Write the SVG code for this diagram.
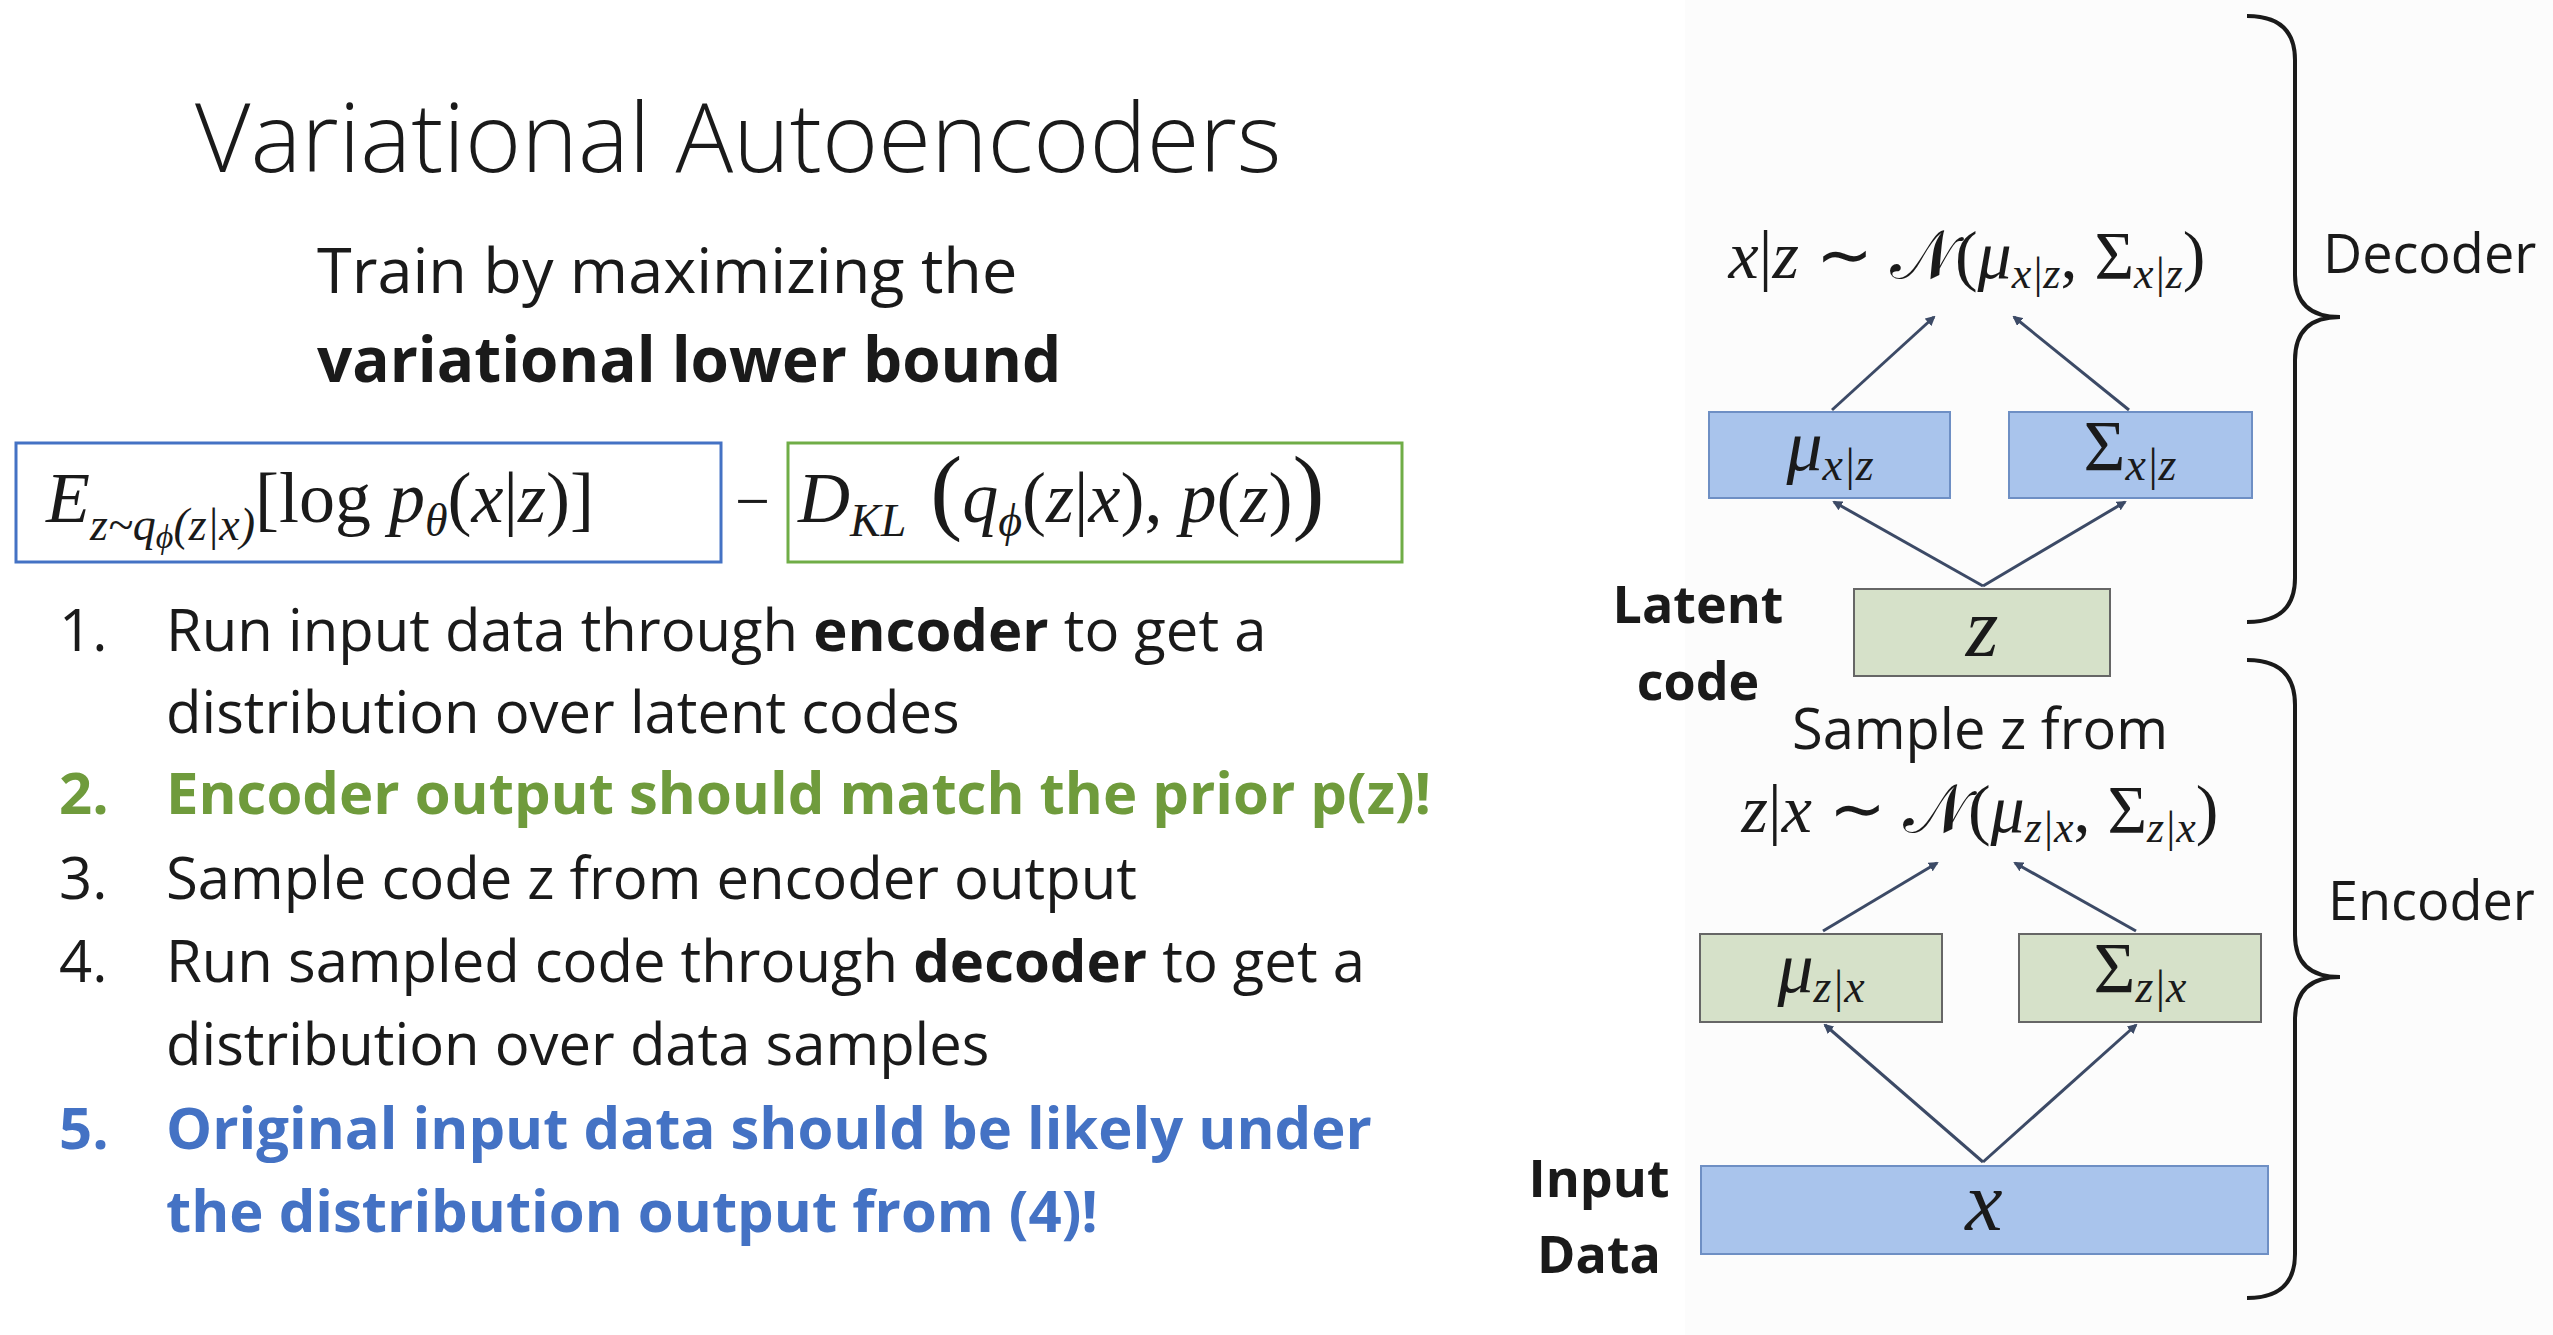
<svg xmlns="http://www.w3.org/2000/svg" width="2553" height="1335" viewBox="0 0 2553 1335">
<style>
.s{font-family:"Open Sans","Liberation Sans",sans-serif;fill:#1a1a1a}
.m{font-family:"Liberation Serif",serif;font-style:italic;fill:#1a1a1a}
.r{font-family:"Liberation Serif",serif;fill:#1a1a1a}
.b{font-weight:bold}
.bl{fill:#a9c4ec;stroke:#6e8fc4;stroke-width:2}
.gr{fill:#d6e1c9;stroke:#666;stroke-width:2}
.a{stroke:#3c4a66;stroke-width:3;fill:none;marker-end:url(#ah)}
.br{stroke:#1a1a1a;stroke-width:4;fill:none}
</style>
<defs><marker id="ah" markerWidth="10" markerHeight="10" refX="8" refY="5" orient="auto" markerUnits="userSpaceOnUse"><path d="M0,0 L10,5 L0,10 z" fill="#3c4a66"/></marker></defs>
<rect width="2553" height="1335" fill="#fcfcfc"/>
<rect width="1685" height="1335" fill="#fff"/>
<text class="s" x="195" y="172" font-size="96" font-weight="300">Variational Autoencoders</text>
<text class="s" x="317" y="293" font-size="63">Train by maximizing the</text>
<text class="s b" x="317" y="382" font-size="62">variational lower bound</text>
<g id="formula">
<rect x="16" y="443" width="705" height="119" fill="#fff" stroke="#4472c4" stroke-width="3"/>
<rect x="788" y="443" width="614" height="119" fill="#fff" stroke="#70ad47" stroke-width="3"/>
<text x="46" y="522" font-size="72" class="r"><tspan class="m">E</tspan><tspan class="m" font-size="46" dy="18">z~q</tspan><tspan class="m" font-size="34" dy="8">ϕ</tspan><tspan class="m" font-size="46" dy="-8">(z|x)</tspan><tspan dy="-18">[log </tspan><tspan class="m">p</tspan><tspan class="m" font-size="46" dy="14">θ</tspan><tspan dy="-14">(</tspan><tspan class="m">x</tspan>|<tspan class="m">z</tspan>)]</text>
<text x="735" y="522" font-size="62" class="r">−</text>
<text x="798" y="522" font-size="72" class="r"><tspan class="m">D</tspan><tspan class="m" font-size="46" dy="14">KL</tspan><tspan dy="-14" font-size="96"> (</tspan><tspan class="m">q</tspan><tspan class="m" font-size="46" dy="14">ϕ</tspan><tspan dy="-14">(</tspan><tspan class="m">z</tspan>|<tspan class="m">x</tspan>), <tspan class="m">p</tspan>(<tspan class="m">z</tspan>)<tspan font-size="96">)</tspan></text>
</g>
<g id="list">
<text class="s" x="59" y="651" font-size="58">1.</text><text class="s" x="166" y="651" font-size="58">Run input data through <tspan class="b">encoder</tspan> to get a</text>
<text class="s" x="166" y="733" font-size="58">distribution over latent codes</text>
<text class="s b" x="59" y="814" font-size="58" style="fill:#6f9b3c">2.</text><text class="s b" x="166" y="814" font-size="58" style="fill:#6f9b3c">Encoder output should match the prior p(z)!</text>
<text class="s" x="59" y="899" font-size="58">3.</text><text class="s" x="166" y="899" font-size="58">Sample code z from encoder output</text>
<text class="s" x="59" y="982" font-size="58">4.</text><text class="s" x="166" y="982" font-size="58">Run sampled code through <tspan class="b">decoder</tspan> to get a</text>
<text class="s" x="166" y="1065" font-size="58">distribution over data samples</text>
<text class="s b" x="59" y="1149" font-size="58" style="fill:#4472c4">5.</text><text class="s b" x="166" y="1149" font-size="58" style="fill:#4472c4">Original input data should be likely under</text>
<text class="s b" x="166" y="1232" font-size="58" style="fill:#4472c4">the distribution output from (4)!</text>
</g>
<text class="r" x="1967" y="278" font-size="68" text-anchor="middle"><tspan class="m">x</tspan>|<tspan class="m">z</tspan> ∼ 𝒩(<tspan class="m">μ</tspan><tspan class="m" font-size="44" dy="10">x|z</tspan><tspan dy="-10">, Σ</tspan><tspan class="m" font-size="44" dy="10">x|z</tspan><tspan dy="-10">)</tspan></text>
<text class="r" x="1980" y="832" font-size="68" text-anchor="middle"><tspan class="m">z</tspan>|<tspan class="m">x</tspan> ∼ 𝒩(<tspan class="m">μ</tspan><tspan class="m" font-size="44" dy="10">z|x</tspan><tspan dy="-10">, Σ</tspan><tspan class="m" font-size="44" dy="10">z|x</tspan><tspan dy="-10">)</tspan></text>
<text class="s" x="1980" y="749" font-size="56" text-anchor="middle">Sample z from</text>
<g id="mu_xz"><rect class="bl" x="1709" y="412" width="241" height="86"/><text class="r" x="1830" y="470" font-size="72" text-anchor="middle"><tspan class="m">μ</tspan><tspan class="m" font-size="46" dy="10">x|z</tspan></text></g>
<g id="sig_xz"><rect class="bl" x="2009" y="412" width="243" height="86"/><text class="r" x="2130" y="470" font-size="72" text-anchor="middle">Σ<tspan class="m" font-size="46" dy="10">x|z</tspan></text></g>
<g id="z"><rect class="gr" x="1854" y="589" width="256" height="87"/><text class="m" x="1982" y="656" font-size="84" text-anchor="middle">z</text></g>
<g id="mu_zx"><rect class="gr" x="1700" y="934" width="242" height="88"/><text class="r" x="1821" y="992" font-size="72" text-anchor="middle"><tspan class="m">μ</tspan><tspan class="m" font-size="46" dy="10">z|x</tspan></text></g>
<g id="sig_zx"><rect class="gr" x="2019" y="934" width="242" height="88"/><text class="r" x="2140" y="992" font-size="72" text-anchor="middle">Σ<tspan class="m" font-size="46" dy="10">z|x</tspan></text></g>
<g id="x"><rect class="bl" x="1701" y="1166" width="567" height="88"/><text class="m" x="1984" y="1230" font-size="84" text-anchor="middle">x</text></g>
<text class="s b" x="1698" y="623" font-size="52" text-anchor="middle">Latent</text>
<text class="s b" x="1698" y="700" font-size="52" text-anchor="middle">code</text>
<text class="s b" x="1599" y="1197" font-size="52" text-anchor="middle">Input</text>
<text class="s b" x="1599" y="1273" font-size="52" text-anchor="middle">Data</text>
<g id="connectors">
<path class="a" d="M1832,410 L1934,317"/><path class="a" d="M2129,410 L2014,317"/>
<path class="a" d="M1983,586 L1834,502"/><path class="a" d="M1983,586 L2125,502"/>
<path class="a" d="M1823,931 L1937,863"/><path class="a" d="M2136,931 L2015,863"/>
<path class="a" d="M1983,1162 L1825,1025"/><path class="a" d="M1983,1162 L2136,1025"/>
</g>
<path class="br" d="M2247,16 Q2295,16 2295,60 L2295,275 Q2295,317 2340,317 Q2295,317 2295,360 L2295,578 Q2295,622 2247,622"/>
<path class="br" d="M2247,660 Q2295,660 2295,705 L2295,935 Q2295,977 2340,977 Q2295,977 2295,1020 L2295,1254 Q2295,1298 2247,1298"/>
<text class="s" x="2323" y="273" font-size="54">Decoder</text>
<text class="s" x="2328" y="920" font-size="54">Encoder</text>
</svg>
